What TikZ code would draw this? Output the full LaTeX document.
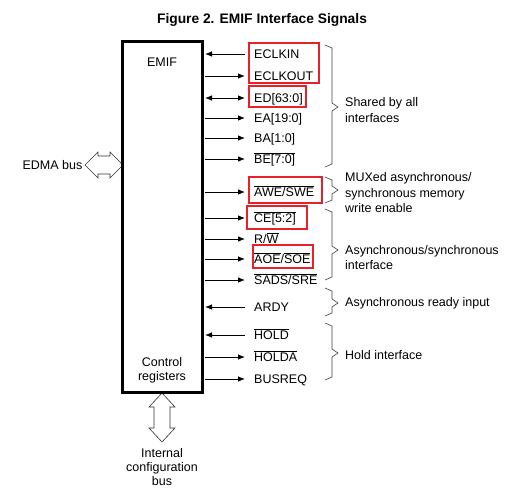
\documentclass[tikz,border=0pt]{standalone}
\usepackage{fontspec}
\setmainfont{Liberation Sans}
\usetikzlibrary{arrows.meta}
\definecolor{hlred}{RGB}{232,32,42}
\newcommand\ovl[1]{\vbox{\hrule height 0.7pt\kern 1.1pt\hbox{#1}}}
\begin{document}
\begin{tikzpicture}[x=1pt,y=-1pt,
  font=\fontsize{12.5}{15.5}\selectfont,
  sig/.style={anchor=base west, inner sep=0pt},
  wire/.style={line width=0.8pt, -{Latex[length=7pt,width=5.5pt]}},
  wire2/.style={line width=0.8pt, {Latex[length=7pt,width=5.5pt]}-{Latex[length=7pt,width=5.5pt]}},
  brc/.style={line width=0.6pt, draw=black!75},
  redbox/.style={draw=hlred, line width=2.5pt},
  bus/.style={draw=black!80, fill=white, line width=0.6pt},
  note/.style={anchor=west, align=left, inner sep=0pt},
  ctext/.style={align=center, inner sep=0pt, font=\fontsize{12.5}{14}\selectfont}]
\useasboundingbox (0,0) rectangle (508,496);

\node (title) at (262,20) {\fontsize{13.8}{16}\selectfont\bfseries Figure 2. EMIF Interface Signals};

% buses (drawn before the box)
\draw[bus] (85,165) -- (98,152) -- (98,156) -- (110,156) -- (110,152) -- (123,165)
  -- (110,178) -- (110,174) -- (98,174) -- (98,178) -- cycle;
\draw[bus] (162,393) -- (175,407) -- (170,407) -- (170,428) -- (175,428) -- (162,442)
  -- (149,428) -- (154,428) -- (154,407) -- (149,407) -- cycle;

\node[draw, line width=3pt, minimum width=80pt, minimum height=351pt, inner sep=0pt] (emif) at (162,216.5) {};
\node (emiflbl) at (162,62) {EMIF};
\node[ctext] (ctrl) at (162,370) {Control\\registers};
\node (edma) at (52.5,165) {EDMA bus};
\node[ctext] (icb) at (162,467) {Internal\\configuration\\bus};

% signals
\node[sig] (s1) at (254,58.5) {ECLKIN};
\node[sig] (s2) at (254,80.5) {ECLKOUT};
\node[sig] (s3) at (254,102.5) {ED[63:0]};
\node[sig] (s4) at (254,122.5) {EA[19:0]};
\node[sig] (s5) at (254,142.5) {BA[1:0]};
\node[sig] (s6) at (254,163.5) {\ovl{BE[7:0]}};
\node[sig] (s7) at (254,196.5) {\ovl{AWE/SWE}};
\node[sig] (s8) at (254,222.5) {\ovl{CE[5:2]}};
\node[sig] (s9) at (254,243.5) {R/\ovl{W}};
\node[sig] (s10) at (254,263.5) {\ovl{AOE}/\ovl{SOE}};
\node[sig] (s11) at (254,284.5) {\ovl{SADS/SRE}};
\node[sig] (s12) at (254,311.5) {ARDY};
\node[sig] (s13) at (254,339.5) {\ovl{HOLD}};
\node[sig] (s14) at (254,361.5) {\ovl{HOLDA}};
\node[sig] (s15) at (254,383.5) {BUSREQ};

\coordinate (c1) at (245,54);
\coordinate (c2) at (245,76);
\coordinate (c3) at (245,98);
\coordinate (c4) at (245,118);
\coordinate (c5) at (245,138);
\coordinate (c6) at (245,159);
\coordinate (c7) at (245,192);
\coordinate (c8) at (245,218);
\coordinate (c9) at (245,239);
\coordinate (c10) at (245,259);
\coordinate (c11) at (245,280);
\coordinate (c12) at (245,307);
\coordinate (c13) at (245,335);
\coordinate (c14) at (245,357);
\coordinate (c15) at (245,379);

\draw[wire] (c1) -- ([xshift=1.5pt]emif.east |- c1);
\draw[wire] ([xshift=1.5pt]emif.east |- c2) -- (c2);
\draw[wire2] ([xshift=1.5pt]emif.east |- c3) -- (c3);
\foreach \i in {4,5,6,7,8,9,10,11,14,15}
  \draw[wire] ([xshift=1.5pt]emif.east |- c\i) -- (c\i);
\draw[wire] (c12) -- ([xshift=1.5pt]emif.east |- c12);
\draw[wire] (c13) -- ([xshift=1.5pt]emif.east |- c13);

% highlight boxes
\draw[redbox] (249,43) rectangle (319,83);
\draw[redbox] (249,86) rectangle (306,107);
\draw[redbox] (249,177) rectangle (322,203);
\draw[redbox] (247,206) rectangle (307,229);
\draw[redbox] (253,245) rectangle (313,268);

% braces
\draw[brc] (325,45) -- (332,48) -- (332,103) -- (338,107) -- (332,111) -- (332,164) -- (325,167);
\draw[brc] (325,177) -- (332,180) -- (332,186) -- (338,190) -- (332,194) -- (332,200) -- (325,203);
\draw[brc] (325,209) -- (332,212) -- (332,246) -- (338,250) -- (332,254) -- (332,277) -- (325,280);
\draw[brc] (325,288) -- (332,291) -- (332,299) -- (338,303) -- (332,307) -- (332,313) -- (325,316);
\draw[brc] (325,323) -- (332,326) -- (332,349) -- (338,353) -- (332,357) -- (332,377) -- (325,380);

\node[note] (n1) at (345,110) {Shared by all\\interfaces};
\node[note] (n2) at (345,193) {MUXed asynchronous/\\synchronous memory\\write enable};
\node[note] (n3) at (345,257.5) {Asynchronous/synchronous\\interface};
\node[note] (n4) at (345,303) {Asynchronous ready input};
\node[note] (n5) at (345,355) {Hold interface};
\end{tikzpicture}
\end{document}
